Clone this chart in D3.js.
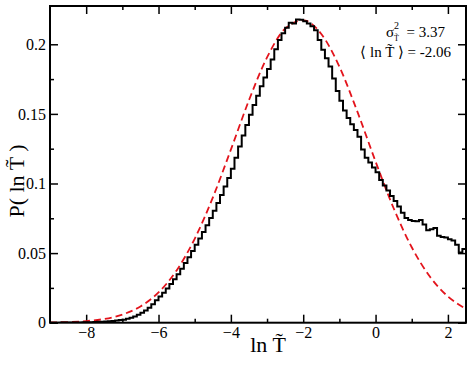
<!DOCTYPE html>
<html>
<head>
<meta charset="utf-8">
<script src="https://cdn.jsdelivr.net/npm/d3@7"></script>
<style>
  html, body { margin: 0; padding: 0; background: #fff; }
  svg { display: block; }
</style>
</head>
<body>
<svg id="chart" width="474" height="366" font-family="Liberation Serif"></svg>
<script>
// ---- data ----
const histStart = -9.0;      // left edge of first bin
const histBinWidth = 0.1;
const histValues = [
  0, 0, 0, 0.0001, 0.0001, 0.0001, 0.0001, 0.0002, 0.0002, 0.0003,
  0.0003, 0.0004, 0.0005, 0.0006, 0.0007, 0.0009, 0.0011, 0.0013, 0.0016, 0.0019,
  0.0022, 0.0028, 0.0035, 0.0045, 0.0058, 0.0072, 0.0088, 0.0108, 0.0133, 0.0162,
  0.0188, 0.0216, 0.0246, 0.0278, 0.0312, 0.0348, 0.0387, 0.0428, 0.0470, 0.0515,
  0.0560, 0.0605, 0.0652, 0.0700, 0.0752, 0.0805, 0.0860, 0.0918, 0.0978, 0.1040,
  0.1105, 0.1185, 0.1265, 0.1345, 0.1420, 0.1493, 0.1563, 0.1631, 0.1698, 0.1761,
  0.1822, 0.1890, 0.1965, 0.2030, 0.2080, 0.2118, 0.2155, 0.2150, 0.2178, 0.2176,
  0.2165, 0.2150, 0.2130, 0.2100, 0.2030, 0.1960, 0.1900, 0.1840, 0.1755, 0.1665,
  0.1595, 0.1525, 0.1470, 0.1425, 0.1385, 0.1335, 0.1245, 0.1185, 0.1150, 0.1115,
  0.1080, 0.1025, 0.0985, 0.0950, 0.0910, 0.0875, 0.0835, 0.0790, 0.0752, 0.0738,
  0.0730, 0.0728, 0.0738, 0.0705, 0.0665, 0.0672, 0.0680, 0.0625, 0.0615, 0.0612,
  0.0600, 0.0590, 0.0560, 0.0505, 0.0530
];
const fitX = [-9, -8.5, -8, -7.5, -7, -6.5, -6, -5.5, -5, -4.5, -4, -3.5, -3, -2.5, -2,
              -1.5, -1, -0.5, 0, 0.5, 1, 1.5, 2, 2.5];
const fitY = [0.00017, 0.00046, 0.00116, 0.00269, 0.00582, 0.01166, 0.02172, 0.03755,
              0.06026, 0.08984, 0.1243, 0.1598, 0.1906, 0.2112, 0.2172, 0.2074, 0.1839,
              0.1514, 0.1158, 0.0822, 0.05418, 0.03316, 0.01883, 0.00993];
const xMajorTicks = [-8, -6, -4, -2, 0, 2];
const xMinorTicks = [-7, -5, -3, -1, 1];
const yMajorTicks = [0, 0.05, 0.1, 0.15, 0.2];
const yTickLabels = ["0", "0.05", "0.1", "0.15", "0.2"];
const yMinorTicks = [0.025, 0.075, 0.125, 0.175];
const xDomain = [-9, 2.5];
const yDomain = [0, 0.2275];

// ---- layout ----
const FONT = "Liberation Serif";
const svg = d3.select("#chart");
const L = 50, R = 466, T = 6, B = 322.7;
const x = d3.scaleLinear().domain(xDomain).range([L, R]);
const y = d3.scaleLinear().domain(yDomain).range([B, T]);

svg.append("defs").append("clipPath").attr("id", "clip")
  .append("rect").attr("x", L).attr("y", T).attr("width", R - L).attr("height", B - T);

function styleAxis(g) {
  g.attr("font-family", FONT).attr("font-size", 16);
  g.select(".domain").remove();
  g.selectAll(".tick line").attr("stroke", "#000").attr("stroke-width", 1.5);
  g.selectAll(".tick text").attr("fill", "#000");
}

// bottom
svg.append("g").attr("transform", `translate(0,${B})`)
  .call(d3.axisBottom(x).tickValues(xMajorTicks).tickSize(-8).tickPadding(4)
        .tickFormat(d3.format("d")))
  .call(styleAxis);
svg.append("g").attr("transform", `translate(0,${B})`)
  .call(d3.axisBottom(x).tickValues(xMinorTicks).tickSize(-4).tickFormat(""))
  .call(styleAxis);
// top
svg.append("g").attr("transform", `translate(0,${T})`)
  .call(d3.axisTop(x).tickValues(xMajorTicks).tickSize(-8).tickFormat(""))
  .call(styleAxis);
svg.append("g").attr("transform", `translate(0,${T})`)
  .call(d3.axisTop(x).tickValues(xMinorTicks).tickSize(-4).tickFormat(""))
  .call(styleAxis);
// left
svg.append("g").attr("transform", `translate(${L},0)`)
  .call(d3.axisLeft(y).tickValues(yMajorTicks).tickSize(-8).tickPadding(4)
        .tickFormat((d, i) => yTickLabels[i]))
  .call(styleAxis);
svg.append("g").attr("transform", `translate(${L},0)`)
  .call(d3.axisLeft(y).tickValues(yMinorTicks).tickSize(-4).tickFormat(""))
  .call(styleAxis);
// right
svg.append("g").attr("transform", `translate(${R},0)`)
  .call(d3.axisRight(y).tickValues(yMajorTicks).tickSize(-8).tickFormat(""))
  .call(styleAxis);
svg.append("g").attr("transform", `translate(${R},0)`)
  .call(d3.axisRight(y).tickValues(yMinorTicks).tickSize(-4).tickFormat(""))
  .call(styleAxis);

// ---- curves ----
const plot = svg.append("g").attr("clip-path", "url(#clip)");

const fitData = fitX.map((v, i) => [v, fitY[i]]);
plot.append("path")
  .datum(fitData)
  .attr("fill", "none")
  .attr("stroke", "#e3141c")
  .attr("stroke-width", 1.8)
  .attr("stroke-dasharray", "7,4")
  .attr("d", d3.line().x(d => x(d[0])).y(d => y(d[1])).curve(d3.curveMonotoneX));

const histData = histValues.map((v, i) => [histStart + i * histBinWidth, v]);
histData.push([histStart + histValues.length * histBinWidth, histValues[histValues.length - 1]]);
plot.append("path")
  .datum(histData)
  .attr("fill", "none")
  .attr("stroke", "#000")
  .attr("stroke-width", 2)
  .attr("stroke-linejoin", "miter")
  .attr("d", d3.line().x(d => x(d[0])).y(d => y(d[1])).curve(d3.curveStepAfter));

// frame
svg.append("rect")
  .attr("x", L).attr("y", T).attr("width", R - L).attr("height", B - T)
  .attr("fill", "none").attr("stroke", "#000").attr("stroke-width", 2);

// ---- labels ----
svg.append("text")
  .attr("x", 268).attr("y", 352)
  .attr("text-anchor", "middle")
  .attr("font-family", FONT).attr("font-size", 22)
  .text("ln T\u0303");

svg.append("text")
  .attr("transform", "translate(24,181) rotate(-90)")
  .attr("text-anchor", "middle")
  .attr("font-family", FONT).attr("font-size", 22)
  .text("P( ln T\u0303 )");

// annotation
const ann = svg.append("g").attr("font-family", FONT).attr("font-size", 15);
ann.append("text").attr("x", 386).attr("y", 37).text("\u03C3");
ann.append("text").attr("x", 394).attr("y", 29).attr("font-size", 10).text("2");
ann.append("text").attr("x", 394).attr("y", 41).attr("font-size", 8).text("T\u0303");
ann.append("text").attr("x", 445).attr("y", 37).attr("text-anchor", "end").text("= 3.37");
ann.append("text").attr("x", 451).attr("y", 57).attr("text-anchor", "end")
  .text("\u27E8 ln T\u0303 \u27E9 = -2.06");
</script>
</body>
</html>
